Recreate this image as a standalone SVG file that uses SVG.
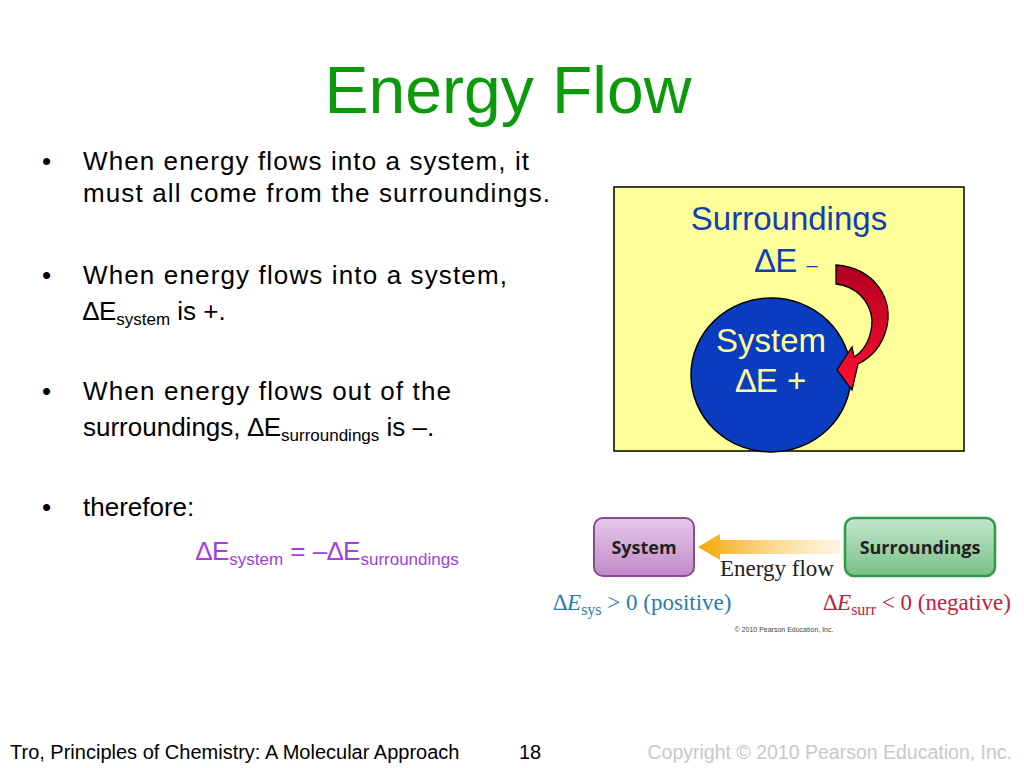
<svg xmlns="http://www.w3.org/2000/svg" width="1024" height="768" viewBox="0 0 1024 768">
<defs>
<style>
.t{font-family:"Liberation Sans",Arial,sans-serif;font-size:26px;fill:#000}
.s{font-size:17px}
.sr{font-family:"Liberation Serif","Times New Roman",serif}
</style>
<linearGradient id="pg" x1="0" y1="0" x2="0" y2="1"><stop offset="0" stop-color="#e6c8ea"/><stop offset="1" stop-color="#c08ac8"/></linearGradient>
<linearGradient id="gg" x1="0" y1="0" x2="0" y2="1"><stop offset="0" stop-color="#c4e6cc"/><stop offset="1" stop-color="#78bf88"/></linearGradient>
<linearGradient id="og" x1="0" y1="0" x2="1" y2="0"><stop offset="0" stop-color="#f5a500"/><stop offset="1" stop-color="#fbe6b0" stop-opacity="0.4"/></linearGradient>
<linearGradient id="rg" x1="0" y1="0" x2="0" y2="1"><stop offset="0" stop-color="#b00020"/><stop offset="1" stop-color="#ff1030"/></linearGradient>
</defs>
<rect width="1024" height="768" fill="#fff"/>
<text x="508" y="113" text-anchor="middle" style="font-family:'Liberation Sans',Arial,sans-serif;font-size:66px;fill:#0a9a0a">Energy Flow</text>
<g id="bullets">
<text class="t" x="42" y="170">•</text>
<text class="t" x="83" y="170" textLength="446">When energy flows into a system, it</text>
<text class="t" x="83" y="202" textLength="467">must all come from the surroundings.</text>
<text class="t" x="42" y="284">•</text>
<text class="t" x="83" y="284" textLength="424">When energy flows into a system,</text>
<text class="t" x="83" y="320">∆E<tspan class="s" dy="5">system</tspan><tspan dy="-5"> is +.</tspan></text>
<text class="t" x="42" y="400">•</text>
<text class="t" x="83" y="400" textLength="368">When energy flows out of the</text>
<text class="t" x="83" y="436">surroundings, ∆E<tspan class="s" dy="5">surroundings</tspan><tspan dy="-5"> is –.</tspan></text>
<text class="t" x="42" y="516">•</text>
<text class="t" x="83" y="516">therefore:</text>
<text class="t" x="196" y="560" style="fill:#a040e0">∆E<tspan class="s" dy="5">system</tspan><tspan dy="-5"> = –∆E</tspan><tspan class="s" dy="5">surroundings</tspan></text>
</g>
<g id="panel">
<rect x="614" y="187" width="350" height="264" fill="#ffff99" stroke="#000" stroke-width="1.5"/>
<text x="789" y="230" text-anchor="middle" style="font-family:'Liberation Sans',Arial,sans-serif;font-size:33px;fill:#1040b0">Surroundings</text>
<text x="755" y="272" style="font-family:'Liberation Sans',Arial,sans-serif;font-size:33px;fill:#1040b0">∆E <tspan font-size="20">–</tspan></text>
</g>
<g id="system">
<ellipse cx="771" cy="375" rx="80" ry="77" fill="#0a3cc0" stroke="#000" stroke-width="1.5"/>
<text x="771" y="352" text-anchor="middle" style="font-family:'Liberation Sans',Arial,sans-serif;font-size:33px;fill:#ffff99">System</text>
<text x="771" y="392" text-anchor="middle" style="font-family:'Liberation Sans',Arial,sans-serif;font-size:33px;fill:#ffff99">∆E +</text>
</g>
<g id="connectors">
<path d="M836,265 C875,268 895,300 886,330 C881,348 870,358 858,364 L852,390 L837,370 L852,347 L854,357 C866,350 872,335 872,320 C870,300 855,286 836,284 Z" fill="url(#rg)" stroke="#000" stroke-width="1.3"/>
<path d="M840,540 L720,540 L720,534 L698,547 L720,560 L720,554 L840,554 Z" fill="url(#og)"/>
</g>
<g id="sysbox">
<rect x="594" y="518" width="100" height="58" rx="9" fill="url(#pg)" stroke="#8a4a96" stroke-width="2"/>
<text x="644" y="554" text-anchor="middle" style="font-family:'Open Sans','Liberation Sans',sans-serif;font-weight:bold;font-size:18px;fill:#222">System</text>
</g>
<g id="surrbox">
<rect x="845" y="518" width="150" height="58" rx="9" fill="url(#gg)" stroke="#2e9a48" stroke-width="2.5"/>
<text x="920" y="554" text-anchor="middle" style="font-family:'Open Sans','Liberation Sans',sans-serif;font-weight:bold;font-size:18px;fill:#222">Surroundings</text>
</g>
<text x="777" y="576" text-anchor="middle" class="sr" style="font-size:23px;fill:#222">Energy flow</text>
<text x="553" y="610" class="sr" style="font-size:23px;fill:#2a7cb0">∆<tspan font-style="italic">E</tspan><tspan font-size="16" dy="5">sys</tspan><tspan dy="-5"> &gt; 0 (positive)</tspan></text>
<text x="823" y="610" class="sr" style="font-size:23px;fill:#c02040">∆<tspan font-style="italic">E</tspan><tspan font-size="16" dy="5">surr</tspan><tspan dy="-5"> &lt; 0 (negative)</tspan></text>
<text x="784" y="632" text-anchor="middle" style="font-family:'Liberation Sans',Arial,sans-serif;font-size:7px;fill:#444">© 2010 Pearson Education, Inc.</text>
<text x="10" y="759" style="font-family:'Liberation Sans',Arial,sans-serif;font-size:20px;fill:#000">Tro, Principles of Chemistry: A Molecular Approach</text>
<text x="530" y="759" text-anchor="middle" style="font-family:'Liberation Sans',Arial,sans-serif;font-size:20px;fill:#000">18</text>
<text x="1012" y="759" text-anchor="end" style="font-family:'Liberation Sans',Arial,sans-serif;font-size:19.5px;fill:#c8c8c8">Copyright © 2010 Pearson Education, Inc.</text>
</svg>
